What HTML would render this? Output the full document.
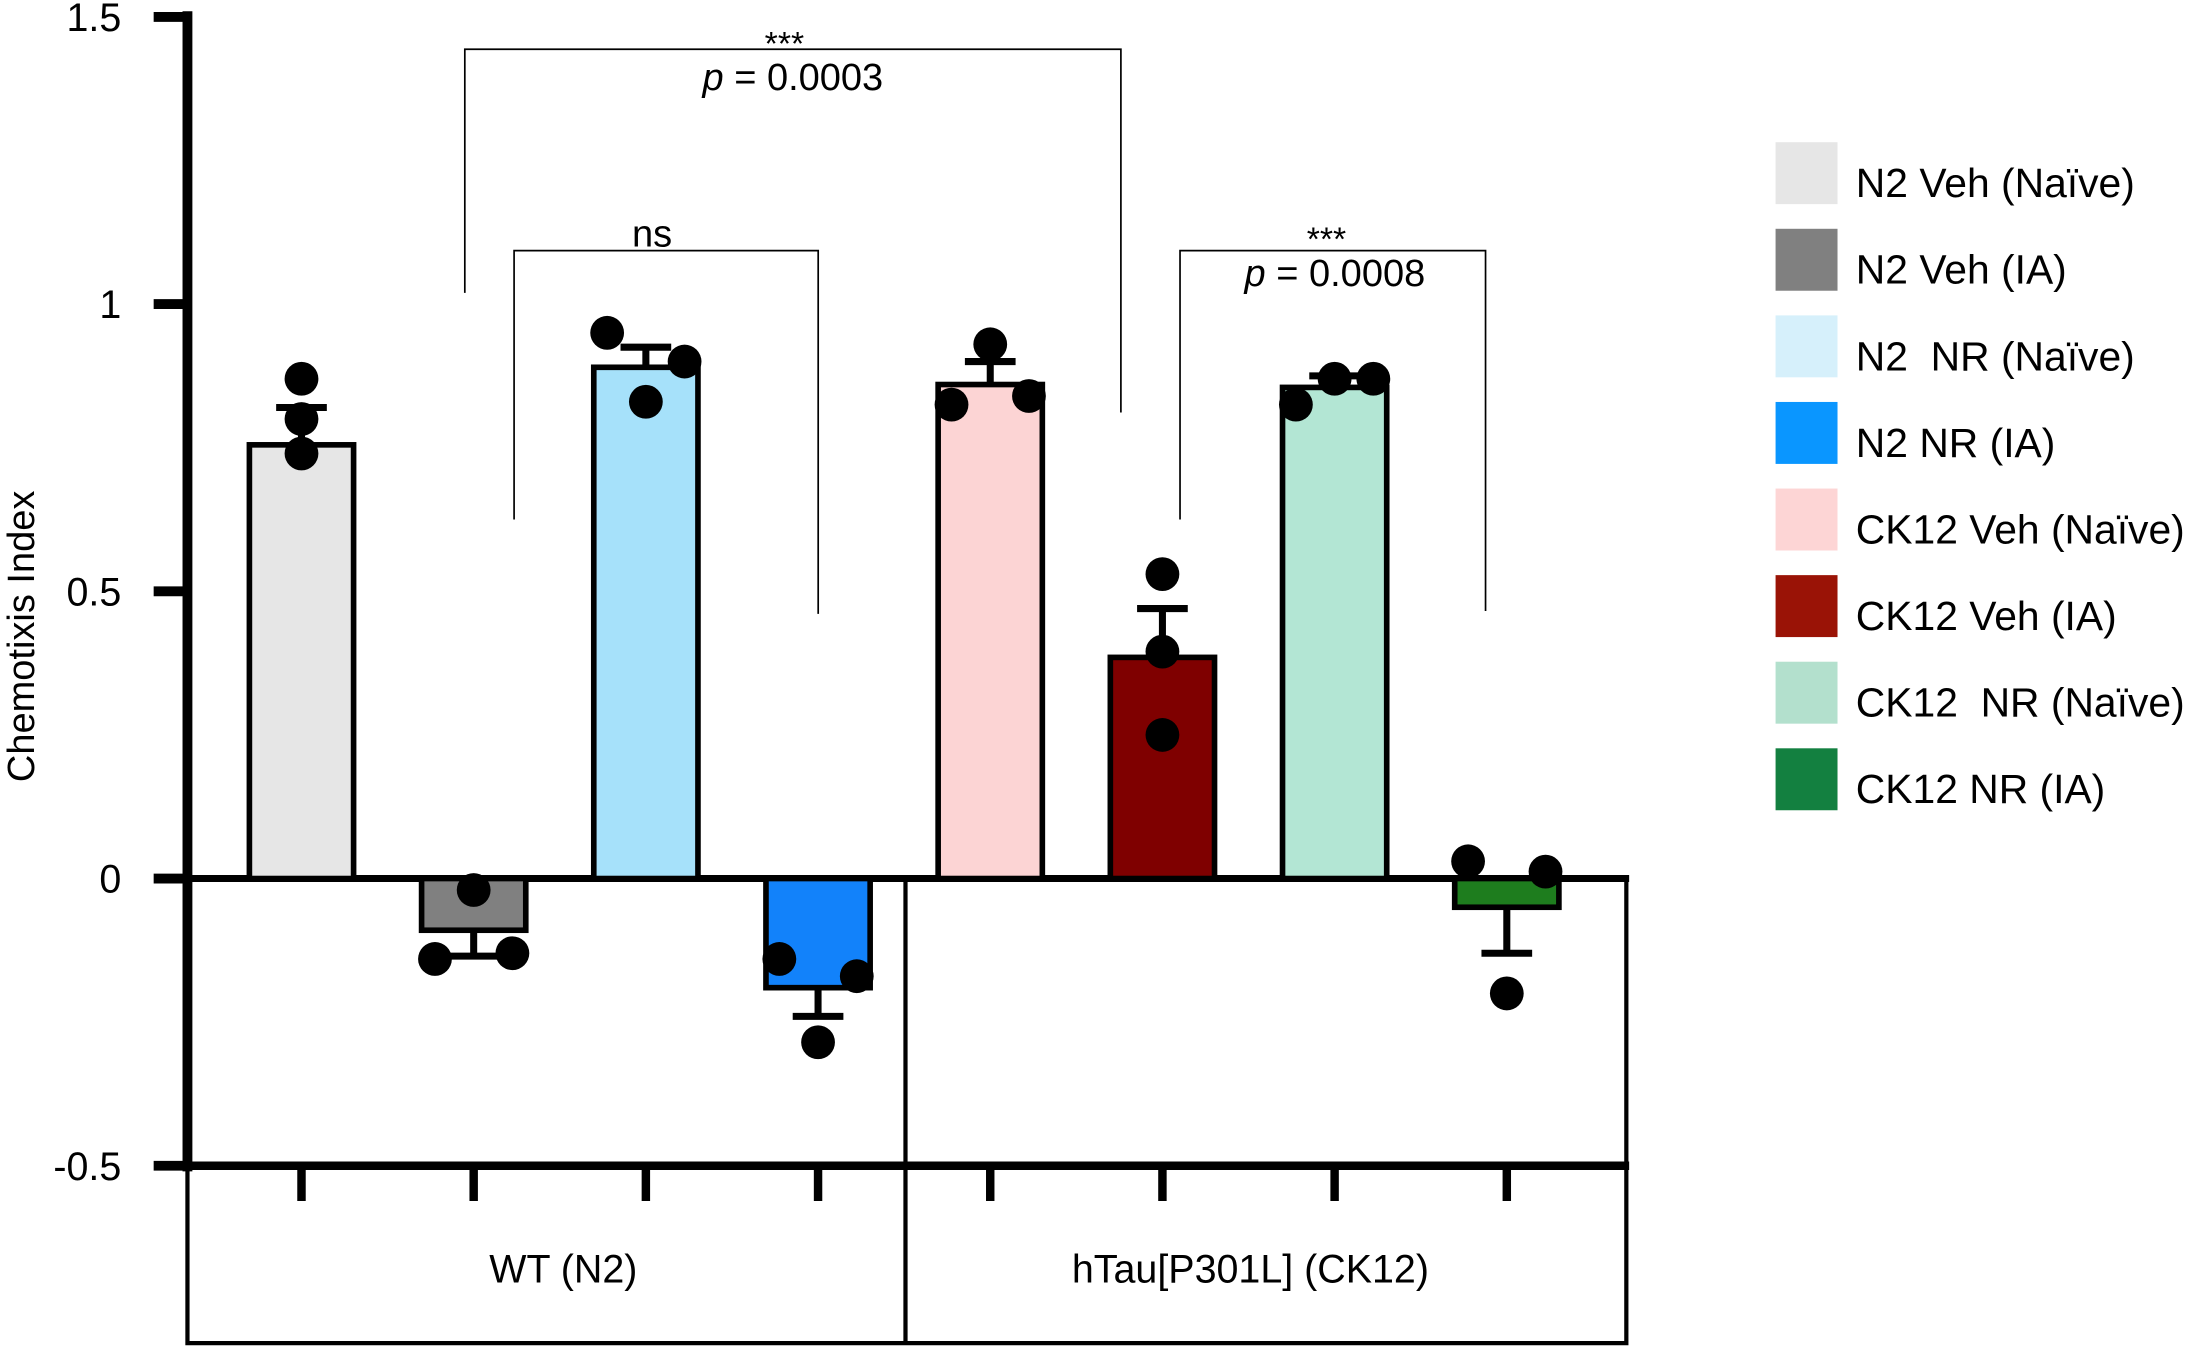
<!DOCTYPE html>
<html><head><meta charset="utf-8"><style>
html,body{margin:0;padding:0;background:#fff;}
svg{display:block;font-family:"Liberation Sans",Arial,sans-serif;}
text{white-space:pre;}
</style></head><body>
<svg id="chart" width="2208" height="1353" viewBox="0 0 1568 961" xmlns="http://www.w3.org/2000/svg">
<g id="axes"></g>
<g id="bars"></g>
<g id="annot" stroke="#000" stroke-width="1.2" fill="none">
<polyline points="330,208 330,35 796,35 796,293"/>
<polyline points="365,369 365,178 581,178 581,436"/>
<polyline points="838,369 838,178 1055,178 1055,434"/>
</g>
<g font-size="27" fill="#000">
<text x="557" y="39" text-anchor="middle" font-size="24">***</text>
<text x="563" y="64" text-anchor="middle"><tspan font-style="italic">p</tspan> = 0.0003</text>
<text x="463" y="175" text-anchor="middle">ns</text>
<text x="942" y="178" text-anchor="middle" font-size="24">***</text>
<text x="948" y="203" text-anchor="middle"><tspan font-style="italic">p</tspan> = 0.0008</text>
</g>
<text transform="translate(24,452) rotate(-90)" text-anchor="middle" font-size="27">Chemotixis Index</text>
<g id="legend"></g>
</svg>
<script>
const categories=["N2 Veh (Naïve)","N2 Veh (IA)","N2  NR (Naïve)","N2 NR (IA)","CK12 Veh (Naïve)","CK12 Veh (IA)","CK12  NR (Naïve)","CK12 NR (IA)"];
const means=[0.755,-0.09,0.89,-0.19,0.86,0.385,0.855,-0.05];
const errs=[0.065,0.045,0.035,0.05,0.04,0.085,0.02,0.08];
const points=[[0.87,0.80,0.74],[-0.02,-0.14,-0.13],[0.95,0.83,0.90],[-0.14,-0.285,-0.17],[0.93,0.825,0.84],[0.53,0.395,0.25],[0.825,0.87,0.87],[0.03,-0.2,0.012]];
const jitter=[[0,0,0],[0,-1,1],[-1,0,1],[-1,0,1],[0,-1,1],[0,0,0],[-1,0,1],[-1,0,1]];
const yTicks=[1.5,1,0.5,0,-0.5];
const yTickLabels=["1.5","1","0.5","0","-0.5"];
const groups=["WT (N2)","hTau[P301L] (CK12)"];
const barColors=["#e6e6e6","#808080","#a6e1fa","#1282fa","#fcd4d4","#7f0000","#b3e6d4","#1e7d1e"];
const legendColors=["#e6e6e6","#808080","#d6f0fb","#0a96ff","#fdd5d5","#9a1306","#b3e0cd","#138040"];
const NS="http://www.w3.org/2000/svg";
const y=v=>624-v*408;
const x=i=>214+i*122.3;
function mk(tag,attrs,parent){const e=document.createElementNS(NS,tag);for(const k in attrs)e.setAttribute(k,attrs[k]);parent.appendChild(e);return e;}
const axes=document.getElementById('axes');
let e=mk('line',{x1:133,y1:8,x2:133,y2:832,stroke:'#000','stroke-width':7},axes);

yTicks.forEach((t,i)=>{
 let l=mk('line',{x1:109,x2:133,y1:y(t),y2:y(t),stroke:'#000','stroke-width':7},axes);
 
 let tx=mk('text',{x:86,y:y(t)+10,'text-anchor':'end','font-size':28},axes);tx.textContent=yTickLabels[i];
 
});
const bars=document.getElementById('bars');
means.forEach((m,i)=>{
 const cx=x(i),top=Math.min(y(m),y(0)),h=Math.abs(y(m)-y(0));
 let r=mk('rect',{x:cx-37,y:top,width:74,height:h,fill:barColors[i],stroke:'#000','stroke-width':4},bars);
 
 const ev=m+(m>=0?errs[i]:-errs[i]);
 let el=mk('path',{d:`M${cx},${y(m)}V${y(ev)}M${cx-18},${y(ev)}H${cx+18}`,stroke:'#000','stroke-width':5,fill:'none'},bars);
 
 points[i].forEach((p,j)=>{
  let c=mk('circle',{cx:cx+jitter[i][j]*27.5,cy:y(p),r:12,fill:'#000'},bars);
  
 });
});
e=mk('line',{x1:133,y1:y(0),x2:1157,y2:y(0),stroke:'#000','stroke-width':5},axes);

e=mk('line',{x1:133,y1:y(-0.5),x2:1157,y2:y(-0.5),stroke:'#000','stroke-width':6},axes);

e=mk('path',{d:`M133,${y(0)}V954H1155V${y(0)}M643,${y(0)}V954`,stroke:'#000','stroke-width':3,fill:'none'},axes);

means.forEach((m,i)=>{
 let t=mk('line',{x1:x(i),x2:x(i),y1:y(-0.5),y2:853,stroke:'#000','stroke-width':6},axes);
 
});
[400,888].forEach((gx,i)=>{
 let t=mk('text',{x:gx,y:911,'text-anchor':'middle','font-size':28},axes);t.textContent=groups[i];
 
});
const leg=document.getElementById('legend');
categories.forEach((c,i)=>{
 const ty=101+i*61.5;
 let r=mk('rect',{x:1261,y:ty,width:44,height:44,fill:legendColors[i]},leg);
 
 let t=mk('text',{x:1318,y:ty+39,'font-size':29},leg);t.textContent=c;
 
});
</script>
</body></html>
